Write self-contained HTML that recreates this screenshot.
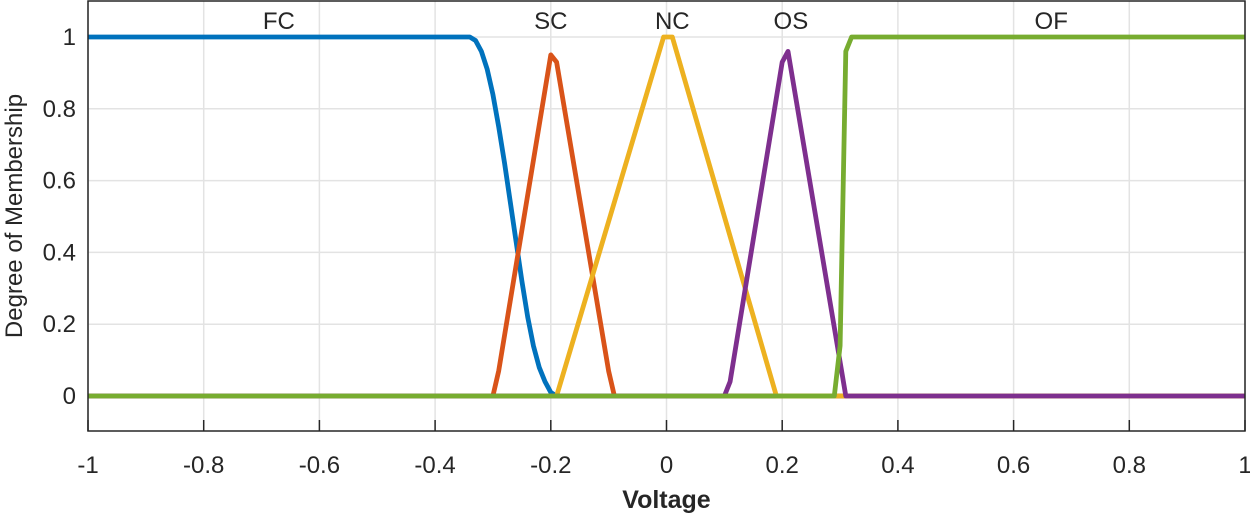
<!DOCTYPE html>
<html><head><meta charset="utf-8"><style>
body{margin:0;background:#fff;}
svg text{font-family:"Liberation Sans",Arial,sans-serif;fill:#262626;}
</style></head><body>
<svg id="chart" width="1250" height="517">
<g id="grid"></g><g id="series"></g><g id="axes"></g>
</svg>
<script>
const xTicks=[-1,-0.8,-0.6,-0.4,-0.2,0,0.2,0.4,0.6,0.8,1];
const xTickLabels=["-1","-0.8","-0.6","-0.4","-0.2","0","0.2","0.4","0.6","0.8","1"];
const yTicks=[0,0.2,0.4,0.6,0.8,1];
const yTickLabels=["0","0.2","0.4","0.6","0.8","1"];
const seriesNames=["FC","SC","NC","OS","OF"];
const labelX=[-0.67,-0.2,0.01,0.215,0.665];
const fcX=[-1,-0.34,-0.33,-0.32,-0.31,-0.30,-0.29,-0.28,-0.27,-0.26,-0.25,-0.24,-0.23,-0.22,-0.21,-0.20,-0.19,1];
const fcY=[1,1,0.99,0.96,0.91,0.84,0.75,0.65,0.54,0.43,0.32,0.22,0.14,0.08,0.04,0.01,0,0];
const scX=[-1,-0.3,-0.29,-0.2,-0.19,-0.1,-0.09,1];
const scY=[0,0,0.07,0.95,0.93,0.07,0,0];
const ncX=[-1,-0.19,-0.005,0.01,0.19,1];
const ncY=[0,0,1,1,0,0];
const osX=[-1,0.1,0.11,0.2,0.21,0.31,1];
const osY=[0,0,0.04,0.93,0.96,0,0];
const ofX=[-1,0.29,0.3,0.31,0.32,1];
const ofY=[0,0,0.14,0.96,1,1];
const colors=["#0072BD","#D95319","#EDB120","#7E2F8E","#77AC30"];
const L=88,R=1245,T=1,B=431;
const sx=v=>L+(v+1)/2*(R-L);
const sy=v=>396-v*359;
const NS="http://www.w3.org/2000/svg";
function mk(tag,attrs,parent,txt){const e=document.createElementNS(NS,tag);for(const k in attrs)e.setAttribute(k,attrs[k]);if(txt!==undefined)e.textContent=txt;parent.appendChild(e);return e;}
const grid=document.getElementById('grid'),ser=document.getElementById('series'),ax=document.getElementById('axes');
xTicks.forEach((t,i)=>{
 const g=mk('line',{x1:sx(t),x2:sx(t),y1:T,y2:B,stroke:'#e3e3e3','stroke-width':1.5},grid);
 
 
 const tk=mk('line',{x1:sx(t),x2:sx(t),y1:B,y2:B-11,stroke:'#262626','stroke-width':1.5},ax);
 
 
 const lb=mk('text',{x:sx(t),y:B+42,'font-size':24,'text-anchor':'middle'},ax,xTickLabels[i]);
 
 
});
yTicks.forEach((t,i)=>{
 const g=mk('line',{x1:L,x2:R,y1:sy(t),y2:sy(t),stroke:'#e3e3e3','stroke-width':1.5},grid);
 
 
 const lb=mk('text',{x:L-12,y:sy(t)+8,'font-size':24,'text-anchor':'end'},ax,yTickLabels[i]);
 
 
});
const xs=[fcX,scX,ncX,osX,ofX],ys=[fcY,scY,ncY,osY,ofY];
xs.forEach((X,k)=>{
 const d=X.map((v,i)=>(i?'L':'M')+sx(v).toFixed(1)+','+sy(ys[k][i]).toFixed(1)).join('');
 const p=mk('path',{d:d,fill:'none',stroke:colors[k],'stroke-width':4.8,'stroke-linejoin':'round'},ser);
 
 
 const lb=mk('text',{x:sx(labelX[k]),y:29,'font-size':24,'text-anchor':'middle'},ax,seriesNames[k]);
 
 
});
const box=mk('rect',{x:L,y:T,width:R-L,height:B-T,fill:'none',stroke:'#262626','stroke-width':1.5},ax);


const xt=mk('text',{x:(L+R)/2,y:508,'font-size':25,'font-weight':'bold','text-anchor':'middle'},ax,'Voltage');


const yt=mk('text',{x:0,y:0,'font-size':24,'text-anchor':'middle',transform:'translate(22,216) rotate(-90)'},ax,'Degree of Membership');


</script>
</body></html>
